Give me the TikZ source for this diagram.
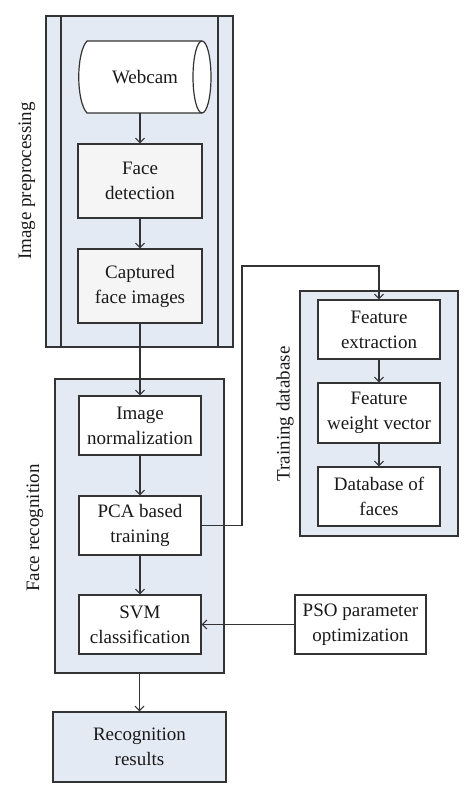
\documentclass[tikz,border=0pt]{standalone}
\usepackage{fontspec}
\setmainfont{Liberation Serif}
\usetikzlibrary{arrows.meta}
\definecolor{panel}{HTML}{E4EAF4}
\definecolor{boxgray}{HTML}{F5F5F5}
\definecolor{ink}{HTML}{333333}
\begin{document}
\begin{tikzpicture}[x=1pt,y=1pt,
  font=\fontsize{19}{25}\selectfont,
  line/.style={draw=ink, line width=1.2pt},
  arr/.style={draw=ink, line width=1.1pt, -{Straight Barb[length=4.5pt,width=9pt,line width=1.1pt]}},
  proc/.style={line, rectangle, fill=white, align=center, inner sep=0pt, text=black!90},
  graybox/.style={proc, fill=boxgray},
  panelbox/.style={line, rectangle, fill=panel, inner sep=0pt},
  grouplabel/.style={rotate=90, anchor=center, inner sep=0pt, text=black!90}]
\useasboundingbox (0,0) rectangle (474,798);

% panels
\node[panelbox, minimum width=187, minimum height=331] (prepanel) at (139.5,616.5) {};
\draw[line] (61,782) -- (61,451);
\draw[line] (218,782) -- (218,451);
\node[panelbox, minimum width=169, minimum height=294] (frpanel) at (139.5,272) {};
\node[panelbox, minimum width=158, minimum height=245] (tdpanel) at (379,384.5) {};

% webcam (horizontal cylinder)
\draw[line, fill=white] (87,757) -- (202,757)
  arc[start angle=90, end angle=-90, x radius=9, y radius=36]
  -- (87,685) .. controls (76,697) and (76,745) .. (87,757) -- cycle;
\draw[line] (202,757) arc[start angle=90, end angle=270, x radius=9, y radius=36];
\node[inner sep=0pt, minimum width=132, minimum height=72, text=black!90] (webcam) at (145,721) {Webcam};

% preprocessing boxes
\node[graybox, minimum width=124, minimum height=74] (fd) at (140,617) {Face\\detection};
\node[graybox, minimum width=124, minimum height=74] (cap) at (140,512) {Captured\\face images};

% face recognition boxes
\node[proc, minimum width=122, minimum height=59] (norm) at (140,372.5) {Image\\normalization};
\node[proc, minimum width=122, minimum height=59] (pca) at (140,272.5) {PCA based\\training};
\node[proc, minimum width=122, minimum height=59] (svm) at (140,173.5) {SVM\\classification};
\node[proc, fill=panel, minimum width=173, minimum height=70] (res) at (139.5,51) {Recognition\\results};

% training database boxes
\node[proc, minimum width=122, minimum height=59] (fe) at (379,468.5) {Feature\\extraction};
\node[proc, minimum width=122, minimum height=60] (fwv) at (379,385) {Feature\\weight vector};
\node[proc, minimum width=122, minimum height=59] (dbf) at (379,301.5) {Database of\\faces};

% PSO
\node[proc, minimum width=131, minimum height=59] (pso) at (360.5,173.5) {PSO parameter\\optimization};

% group labels
\node[grouplabel] (lblpre) at (27,617) {Image preprocessing};
\node[grouplabel] (lblfr) at (35,270) {Face recognition};
\node[grouplabel] (lbltd) at (285,384) {Training database};

% connectors
\draw[arr] (fd.north |- webcam.south) -- (fd.north);
\draw[arr] (fd.south) -- (cap.north);
\draw[arr] (cap.south) -- (norm.north);
\draw[arr] (norm.south) -- (pca.north);
\draw[arr] (pca.south) -- (svm.north);
\draw[arr] (frpanel.south) -- (res.north);
\coordinate (bend) at (242,532);
\draw[arr] (pca.east) -| (bend) -| (fe.north);
\draw[arr] (fe.south) -- (fwv.north);
\draw[arr] (fwv.south) -- (dbf.north);
\draw[arr] (pso.west) -- (svm.east);
\end{tikzpicture}
\end{document}
